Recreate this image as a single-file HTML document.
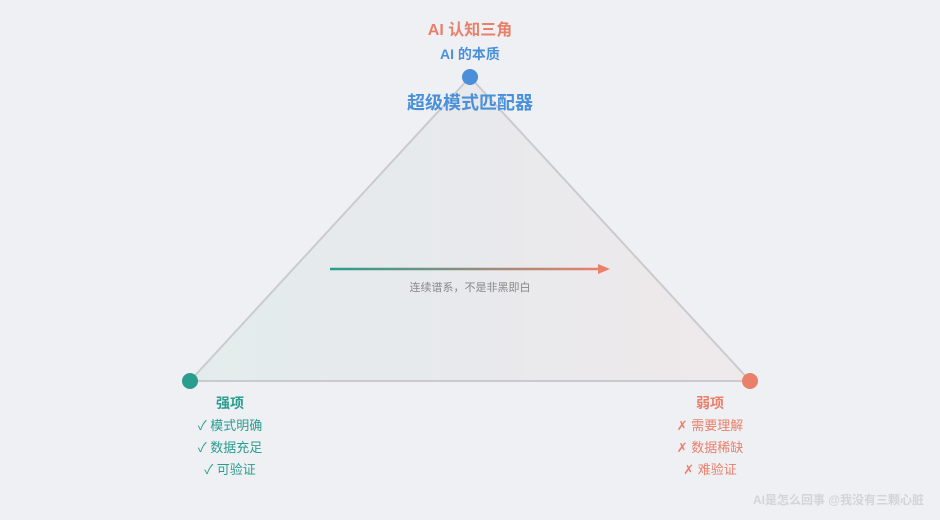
<!DOCTYPE html>
<html><head><meta charset="utf-8"><style>
html,body{margin:0;padding:0;background:#eff0f4;}
svg{display:block;font-family:"Liberation Sans","Noto Sans CJK SC",sans-serif;}
</style></head><body>
<svg width="940" height="520" viewBox="0 0 940 520" xmlns="http://www.w3.org/2000/svg">
<defs>
<linearGradient id="tf" x1="0" x2="1" y1="0" y2="0">
<stop offset="0" stop-color="#e3ecec"/><stop offset="0.5" stop-color="#e8e9ed"/><stop offset="1" stop-color="#efe9ea"/>
</linearGradient>
<linearGradient id="ar" x1="330" x2="600" y1="0" y2="0" gradientUnits="userSpaceOnUse">
<stop offset="0" stop-color="#2a9d8f"/><stop offset="1" stop-color="#e9806a"/>
</linearGradient>
</defs>
<rect width="940" height="520" fill="#eff0f4"/>
<polygon points="470,77 190,381 750,381" fill="url(#tf)" stroke="#cbcbcd" stroke-width="2"/>
<circle cx="470" cy="77" r="8" fill="#4a90d9"/>
<circle cx="190" cy="381" r="8" fill="#2a9d8f"/>
<circle cx="750" cy="381" r="8" fill="#e9806a"/>
<line x1="330" y1="269" x2="599" y2="269" stroke="url(#ar)" stroke-width="2.5"/>
<polygon points="598,264 610,269 598,274" fill="#e9806a"/>
<text x="470" y="291" text-anchor="middle" font-size="11" fill="#888">连续谱系，不是非黑即白</text>
<text x="470" y="35" text-anchor="middle" font-size="16" font-weight="bold" fill="#e9806a">AI 认知三角</text>
<text x="470" y="59" text-anchor="middle" font-size="14" font-weight="bold" fill="#4a90d9">AI 的本质</text>
<text x="470" y="109" text-anchor="middle" font-size="18" font-weight="bold" fill="#4a90d9">超级模式匹配器</text>
<text x="230" y="408" text-anchor="middle" font-size="14" font-weight="bold" fill="#2a9d8f">强项</text>
<text x="230" y="430" text-anchor="middle" font-size="13" fill="#2a9d8f">✓ 模式明确</text>
<text x="230" y="452" text-anchor="middle" font-size="13" fill="#2a9d8f">✓ 数据充足</text>
<text x="230" y="474" text-anchor="middle" font-size="13" fill="#2a9d8f">✓ 可验证</text>
<text x="710" y="408" text-anchor="middle" font-size="14" font-weight="bold" fill="#e9806a">弱项</text>
<text x="710" y="430" text-anchor="middle" font-size="13" fill="#e9806a">✗ 需要理解</text>
<text x="710" y="452" text-anchor="middle" font-size="13" fill="#e9806a">✗ 数据稀缺</text>
<text x="710" y="474" text-anchor="middle" font-size="13" fill="#e9806a">✗ 难验证</text>
<text x="924" y="504" text-anchor="end" font-size="12" font-weight="bold" fill="#d4d4d8">AI是怎么回事 @我没有三颗心脏</text>
</svg>
</body></html>
